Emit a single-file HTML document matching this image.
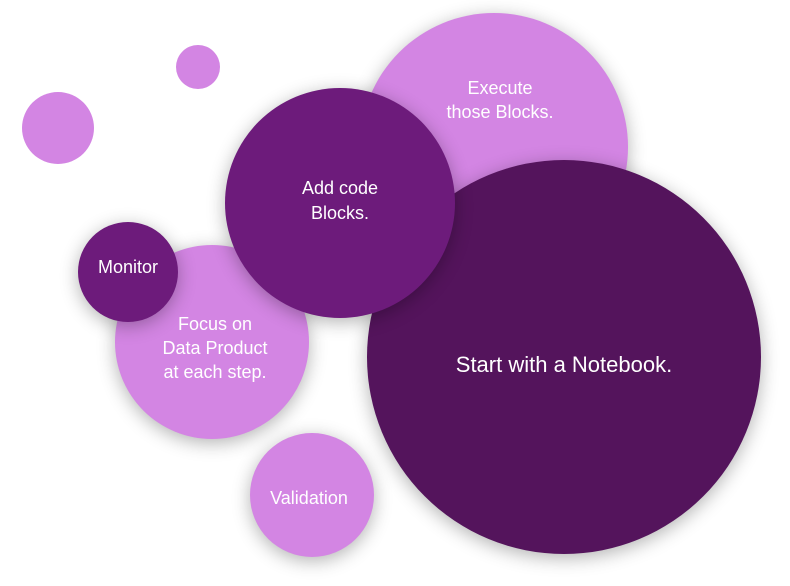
<!DOCTYPE html>
<html><head><style>
html,body{margin:0;padding:0;background:#fff;}
body{width:790px;height:586px;position:relative;overflow:hidden;font-family:"Liberation Sans",sans-serif;}
.c{position:absolute;border-radius:50%;display:flex;align-items:center;justify-content:center;text-align:center;color:#fff;box-shadow:0 4px 18px rgba(0,0,0,0.3);line-height:1.35;}
.l{background:#d385e3;}
.m{background:#6d1b7b;}
.d{background:#54145c;}
</style></head><body>
<div class="c l" style="left:176px;top:45px;width:44px;height:44px;box-shadow:none"></div>
<div class="c l" style="left:22px;top:92px;width:72px;height:72px;box-shadow:none"></div>
<div class="c l" style="left:360px;top:13px;width:268px;height:268px;font-size:18px;"><div style="margin-top:-94px;margin-left:12px">Execute<br>those Blocks.</div></div>
<div class="c d" style="left:367px;top:160px;width:394px;height:394px;font-size:22px;"><div style="margin-top:16px">Start with a Notebook.</div></div>
<div class="c l" style="left:115px;top:245px;width:194px;height:194px;font-size:18px;"><div style="margin-left:6px;margin-top:12px">Focus on<br>Data Product<br>at each step.</div></div>
<div class="c m" style="left:225px;top:88px;width:230px;height:230px;font-size:18px;"><div style="margin-top:-5px">Add code<br>Blocks.</div></div>
<div class="c m" style="left:78px;top:222px;width:100px;height:100px;font-size:18px;"><div style="margin-top:-10px">Monitor</div></div>
<div class="c l" style="left:250px;top:433px;width:124px;height:124px;font-size:18px;"><div style="margin-top:6px;margin-left:-6px">Validation</div></div>
</body></html>
